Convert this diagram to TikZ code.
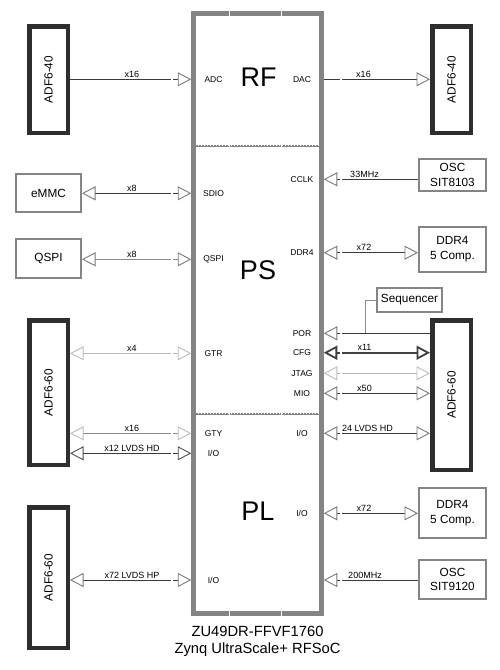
\documentclass[tikz,border=0pt]{standalone}
\usepackage{fontspec}
\setmainfont{Liberation Sans}
\usetikzlibrary{arrows.meta}
\definecolor{chipgray}{HTML}{848484}
\definecolor{adfdark}{HTML}{2E2E2E}
\definecolor{boxgray}{HTML}{858585}
\definecolor{linedark}{HTML}{3A3A3A}
\definecolor{linegray}{HTML}{8A8A8A}
\definecolor{linelight}{HTML}{B8B8B8}
\definecolor{tipgray}{HTML}{7A7A7A}
\definecolor{tiplight}{HTML}{BDBDBD}
\definecolor{tipdark}{HTML}{505050}
\definecolor{cfgdark}{HTML}{404040}
\tikzset{
  TG/.tip={Triangle[open,length=13.5pt,width=14pt,line width=0.9pt,color=tipgray]},
  TL/.tip={Triangle[open,length=13.5pt,width=14pt,line width=0.9pt,color=tiplight]},
  TK/.tip={Triangle[open,length=13.5pt,width=14pt,line width=0.9pt,color=tipdark]},
  TD/.tip={Triangle[open,length=13.5pt,width=14pt,line width=1.8pt,color=cfgdark]},
  chipbox/.style={draw=chipgray,line width=4.5pt,minimum width=128pt,minimum height=600pt,inner sep=0pt},
  adfbox/.style={draw=adfdark,line width=4.5pt,minimum width=38.5pt,inner sep=0pt},
  adftext/.style={rotate=90,inner sep=0pt,font=\fontsize{11.8}{14}\selectfont},
  gbox/.style={draw=boxgray,line width=1.8pt,inner sep=0pt,align=center,font=\fontsize{11.8}{14.8}\selectfont},
  pinlbl/.style={inner sep=0pt,font=\fontsize{8.5}{10}\selectfont},
  conlbl/.style={inner sep=0pt,anchor=base,font=\fontsize{9}{10}\selectfont},
  biglbl/.style={inner sep=0pt,font=\fontsize{27}{30}\selectfont},
  caplbl/.style={inner sep=0pt,anchor=base,font=\fontsize{14.75}{18}\selectfont},
  conn/.style={draw=linedark,line width=0.9pt},
  conng/.style={draw=linegray,line width=0.9pt},
  connl/.style={draw=linelight,line width=0.9pt},
  cfgline/.style={draw=cfgdark,line width=1.9pt},
  sepline/.style={draw=chipgray,line width=1pt},
  sepdash/.style={draw=chipgray,line width=1pt,dash pattern=on 2pt off 1pt},
  gapline/.style={draw=white,line width=1.3pt},
  pingap/.style={draw=white,line width=2.6pt}
}
\begin{document}
\begin{tikzpicture}[x=1pt,y=-1pt]
\useasboundingbox[fill=white] (0,0) rectangle (500,670);

% chip
\node[chipbox] (chip) at (257.5,313.5) {};
\draw[sepline] (195.75,146) -- (319.25,146);
\draw[sepdash] (195.75,145) -- (319.25,145);
\draw[sepline] (195.75,414) -- (319.25,414);
\draw[sepdash] (195.75,413) -- (319.25,413);
\foreach \gx in {229.5,281.5}{
  \draw[gapline] (\gx,10) -- (\gx,17);
  \draw[gapline] (\gx,610) -- (\gx,617);
  \draw[gapline] (\gx,143.5) -- (\gx,147.5);
  \draw[gapline] (\gx,411.5) -- (\gx,415.5);
}
\node[biglbl] (rf) at (258.5,77) {RF};
\node[biglbl] (ps) at (258,270.5) {PS};
\node[biglbl] (pl) at (258,511.7) {PL};
\node[caplbl] (cap1) at (257.5,636) {ZU49DR-FFVF1760};
\node[caplbl] (cap2) at (257.5,653) {Zynq UltraScale+ RFSoC};

% ADF boxes
\node[adfbox,minimum height=106.5pt] (adfA) at (48.5,79.5) {};
\node[adftext] (adfAt) at (adfA) {ADF6-40};
\node[adfbox,minimum height=106.5pt] (adfB) at (451.5,79.5) {};
\node[adftext] (adfBt) at (adfB) {ADF6-40};
\node[adfbox,minimum height=144.5pt] (adfC) at (48.5,392.5) {};
\node[adftext] (adfCt) at (adfC) {ADF6-60};
\node[adfbox,minimum height=149.5pt] (adfD) at (451.5,395) {};
\node[adftext] (adfDt) at (adfD) {ADF6-60};
\node[adfbox,minimum height=140.5pt] (adfE) at (48.5,577.5) {};
\node[adftext] (adfEt) at (adfE) {ADF6-60};

% gray boxes
\node[gbox,minimum width=65.2pt,minimum height=38.2pt] (emmc) at (48.5,193) {eMMC};
\node[gbox,minimum width=65.2pt,minimum height=39.2pt] (qspi) at (48.5,258.5) {QSPI};
\node[gbox,minimum width=67.2pt,minimum height=32.2pt] (osca) at (452.5,175) {OSC\\SIT8103};
\node[gbox,minimum width=67.2pt,minimum height=45.2pt] (ddra) at (452.5,249.5) {DDR4\\5 Comp.};
\node[gbox,minimum width=65.2pt,minimum height=24.2pt] (seq) at (409.5,300) {Sequencer};
\node[gbox,minimum width=67.2pt,minimum height=50.2pt] (ddrb) at (452.5,513) {DDR4\\5 Comp.};
\node[gbox,minimum width=67.2pt,minimum height=39.2pt] (oscb) at (452.5,579.5) {OSC\\SIT9120};

% pin labels left
\node[pinlbl] (adc) at (213.5,79.3) {ADC};
\node[pinlbl] (sdio) at (213.5,193.3) {SDIO};
\node[pinlbl] (qspip) at (213.5,259.3) {QSPI};
\node[pinlbl] (gtr) at (213.5,353.3) {GTR};
\node[pinlbl] (gty) at (213.5,433.3) {GTY};
\node[pinlbl] (ioa) at (213.5,453.3) {I/O};
\node[pinlbl] (iob) at (213.5,580) {I/O};
% pin labels right
\node[pinlbl] (dac) at (302,79.3) {DAC};
\node[pinlbl] (cclk) at (302,179.3) {CCLK};
\node[pinlbl] (ddr) at (302,252.7) {DDR4};
\node[pinlbl] (por) at (302,333.3) {POR};
\node[pinlbl] (cfg) at (302,352.7) {CFG};
\node[pinlbl] (jtag) at (302,373.3) {JTAG};
\node[pinlbl] (mio) at (302,393.3) {MIO};
\node[pinlbl] (ioc) at (302,433.3) {I/O};
\node[pinlbl] (iod) at (302,513.3) {I/O};
\coordinate (clkb) at (302,580);
\coordinate (porj) at (365,333.3);

% connectors left
\draw[conn,-TG] (adc -| adfA.east) -- (adc -| chip.west);
\draw[conn,TG-TG] (sdio -| emmc.east) -- (sdio -| chip.west);
\draw[conng,TG-TG] (qspip -| qspi.east) -- (qspip -| chip.west);
\draw[connl,TL-TL] (gtr -| adfC.east) -- (gtr -| chip.west);
\draw[conng,TL-TL] (gty -| adfC.east) -- (gty -| chip.west);
\draw[conn,TK-TK] (ioa -| adfC.east) -- (ioa -| chip.west);
\draw[conn,TG-TG] (iob -| adfE.east) -- (iob -| chip.west);
% connectors right
\draw[conn,-TG] (dac -| chip.east) -- (dac -| adfB.west);
\draw[conn,-TG] (cclk -| osca.west) -- (cclk -| chip.east);
\draw[conn,TG-TG] (ddr -| chip.east) -- (ddr -| ddra.west);
\draw[conn,-TG] (por -| adfD.west) -- (por -| chip.east);
\draw[conng] (seq.west) -| (porj);
\draw[cfgline,TD-TD] (cfg -| chip.east) -- (cfg -| adfD.west);
\draw[connl,TL-TL] (jtag -| chip.east) -- (jtag -| adfD.west);
\draw[conn,TG-TG] (mio -| chip.east) -- (mio -| adfD.west);
\draw[conn,TG-TG] (ioc -| chip.east) -- (ioc -| adfD.west);
\draw[conn,TG-TG] (iod -| chip.east) -- (iod -| ddrb.west);
\draw[conn,-TG] (clkb -| oscb.west) -- (clkb -| chip.east);

% small breaks in the lines next to the chip
\foreach \p in {adc,sdio,qspip,gtr,gty,ioa,iob}{
  \draw[pingap] ([xshift=-19.8pt]\p -| chip.west) -- ([xshift=-18pt]\p -| chip.west);
}
\foreach \p in {dac,cclk,ddr,por,cfg,jtag,mio,ioc,iod,clkb}{
  \draw[pingap] ([xshift=16.2pt]\p -| chip.east) -- ([xshift=18pt]\p -| chip.east);
}

% connector labels
\node[conlbl] (l1) at (132,77.3) {x16};
\node[conlbl] (l2) at (132,191.3) {x8};
\node[conlbl] (l3) at (132,257.3) {x8};
\node[conlbl] (l4) at (132,351.3) {x4};
\node[conlbl] (l5) at (132,431.3) {x16};
\node[conlbl] (l6) at (132,451.3) {x12 LVDS HD};
\node[conlbl] (l7) at (132,578) {x72 LVDS HP};
\node[conlbl] (r1) at (363.5,77.3) {x16};
\node[conlbl] (r2) at (364.5,177.3) {33MHz};
\node[conlbl] (r3) at (364,250.7) {x72};
\node[conlbl] (r4) at (364.5,350.2) {x11};
\node[conlbl] (r5) at (364.5,391.3) {x50};
\node[conlbl] (r6) at (367.5,431.3) {24 LVDS HD};
\node[conlbl] (r7) at (364,511.3) {x72};
\node[conlbl] (r8) at (365,578) {200MHz};
\end{tikzpicture}
\end{document}
